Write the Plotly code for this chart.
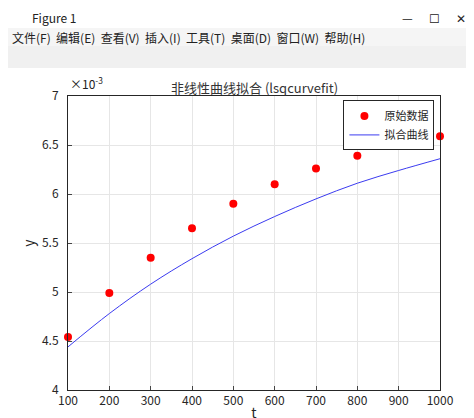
import plotly.graph_objects as go

t = [100, 200, 300, 400, 500, 600, 700, 800, 900, 1000]
y_data = [4.54, 4.99, 5.35, 5.65, 5.90, 6.10, 6.26, 6.39, 6.50, 6.59]
y_fit = [4.44, 4.78, 5.08, 5.34, 5.57, 5.77, 5.95, 6.11, 6.24, 6.36]
x_ticks = [100, 200, 300, 400, 500, 600, 700, 800, 900, 1000]
y_ticks = [4, 4.5, 5, 5.5, 6, 6.5, 7]
y_ticklabels = ["4", "4.5", "5", "5.5", "6", "6.5", "7"]
menu = "文件(F)  编辑(E)  查看(V)  插入(I)  工具(T)  桌面(D)  窗口(W)  帮助(H)"

W, H = 474, 418
L, R, T, B = 60, 42, 88, 36
pw, ph = W - L - R, H - T - B
def px(x): return (x - L) / pw
def py(y): return (H - B - y) / ph

fig = go.Figure()
fig.add_trace(go.Scatter(x=t, y=y_data, mode="markers", name="原始数据", cliponaxis=False,
                         marker=dict(color="red", size=8)))
fig.add_trace(go.Scatter(x=t, y=y_fit, mode="lines", name="拟合曲线",
                         line=dict(color="#3b3bf0", width=1, shape="spline")))

shapes = [
    dict(type="rect", xref="paper", yref="paper", x0=px(0), x1=px(W), y0=py(0), y1=py(20),
         fillcolor="white", line=dict(width=0), layer="below"),
    dict(type="rect", xref="paper", yref="paper", x0=px(0), x1=px(W), y0=py(20), y1=py(38),
         fillcolor="#f5f5f5", line=dict(width=0), layer="below"),
    dict(type="rect", xref="paper", yref="paper", x0=px(0), x1=px(W), y0=py(38), y1=py(60),
         fillcolor="#f0f0f0", line=dict(width=0), layer="below"),
]
ann = [
    dict(text="Figure 1", x=px(22), y=py(10), xanchor="left", yanchor="middle"),
    dict(text="—      ☐      ✕", x=px(460), y=py(10), xanchor="right", yanchor="middle"),
    dict(text=menu, x=px(2), y=py(29), xanchor="left", yanchor="middle"),
    dict(text="×10<sup>-3</sup>", x=px(60), y=py(86), xanchor="left", yanchor="bottom"),
    dict(text="非线性曲线拟合 (lsqcurvefit)", x=0.5, y=py(80), xanchor="center", yanchor="middle",
         font=dict(size=13, color="#333")),
]
for a in ann:
    a.setdefault("font", dict(size=12, color="#222"))
    a.update(xref="paper", yref="paper", showarrow=False)

fig.update_layout(
    width=W, height=H, margin=dict(l=L, r=R, t=T, b=B),
    paper_bgcolor="white", plot_bgcolor="white",
    font=dict(family="Noto Sans CJK SC, Arial", size=12, color="#262626"),
    showlegend=True,
    legend=dict(x=0.985, y=0.985, xanchor="right", yanchor="top", bgcolor="white",
                bordercolor="#262626", borderwidth=1, font=dict(size=11)),
    shapes=shapes, annotations=ann,
    xaxis=dict(range=[100, 1000], tickvals=x_ticks, showgrid=True, gridcolor="#e6e6e6",
               showline=True, linecolor="#262626", mirror=True, ticks="inside", ticklen=4,
               title=dict(text="t", standoff=0), zeroline=False, automargin=False),
    yaxis=dict(range=[4, 7], tickvals=y_ticks, ticktext=y_ticklabels, showgrid=True,
               gridcolor="#e6e6e6", showline=True, linecolor="#262626", mirror=True,
               ticks="inside", ticklen=4, ticklabelstandoff=6,
               title=dict(text="y", standoff=4), zeroline=False, automargin=False),
)
fig.write_html("out.html")
